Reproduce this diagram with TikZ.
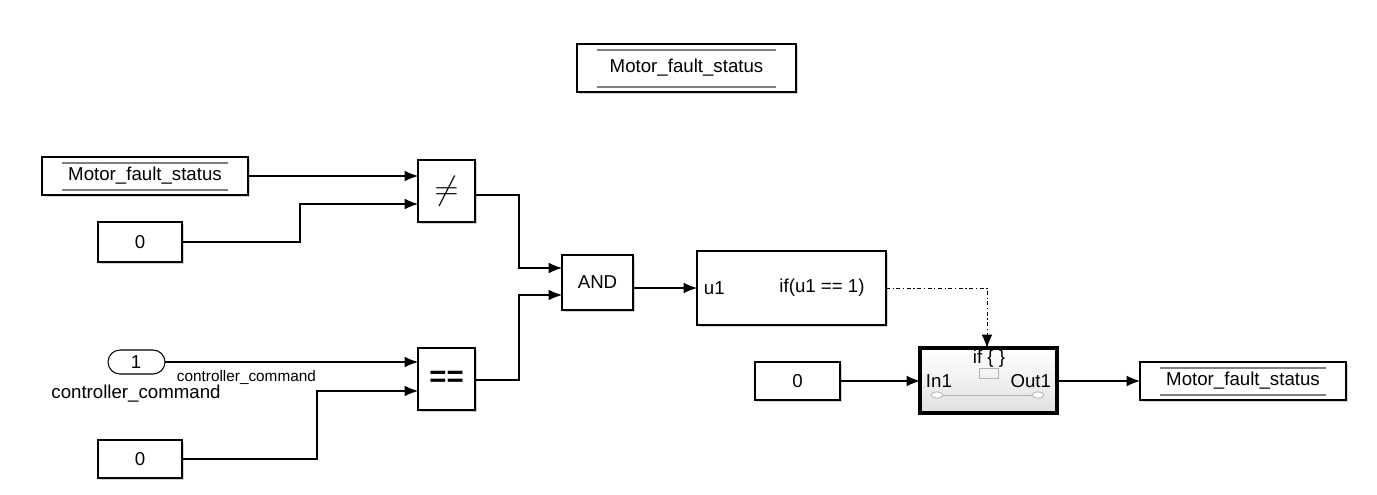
\documentclass[tikz,border=0pt]{standalone}
\usepackage{fontspec}
\setmainfont{Liberation Sans}
\usepackage{tikz}
\usetikzlibrary{calc,arrows,arrows.meta,shadows}
\tikzset{
  blk/.style={draw,thick,fill=white,drop shadow={shadow xshift=1.5pt,shadow yshift=-1.5pt,opacity=0.35},inner sep=0pt},
  sig/.style={-{Latex[length=10pt,width=8pt]},line width=0.8pt},
  txt/.style={font=\fontsize{14}{16}\selectfont},
}
\begin{document}
\begin{tikzpicture}[x=0.75pt,y=-0.75pt,line width=0.8pt]
\useasboundingbox (0,0) rectangle (1377,494);
% % data store blocks
\newcommand{\dstore}[5]{%
  \draw[blk] (#1,#2) rectangle (#3,#4);
  \draw[gray] ($(#1,#2)+(20,6)$) -- ($(#3,#2)+(-20,6)$)
              ($(#1,#4)+(20,-5)$) -- ($(#3,#4)+(-20,-5)$);
  \node[txt] at ($(#1,#2)!0.5!(#3,#4)$) {#5};}
\dstore{577}{44}{796}{92}{Motor\_fault\_status}
\dstore{42}{157}{248}{195}{Motor\_fault\_status}
\dstore{1140}{362}{1346}{400}{Motor\_fault\_status}
\coordinate (dsl) at (248,176);
\coordinate (dsr) at (1140,381);
% % constants
\draw[blk] (98,222) rectangle (182,262) node[midway,txt] (c1) {0};
\draw[blk] (98,440) rectangle (182,478) node[midway,txt] (c2) {0};
\draw[blk] (755,362) rectangle (840,400) node[midway,txt] (c3) {0};
% % operators
\draw[blk] (418,160) rectangle (475,222) node[midway,font=\fontsize{24}{26}\selectfont] (ne) {$\neq$};
\draw[blk] (418,348) rectangle (475,410) node[midway,font=\bfseries\fontsize{22}{24}\selectfont] (eq) {==};
\draw[blk] (562,255) rectangle (633,310) node[midway,txt] (and) {AND};
\draw[blk] (697,251) rectangle (886,325);
\node[txt,anchor=west] (u1) at (699,288) {u1};
\node[txt] (cond) at (822,288) {if(u1 == 1)};
% % if action subsystem
\draw[line width=3pt,top color=white,bottom color=black!12,drop shadow={shadow xshift=1.5pt,shadow yshift=-1.5pt,opacity=0.35}] (920,348) rectangle (1057,413);
\node[txt] (iftxt) at (989,359) {if \{ \}};
\draw[black!30,line width=0.6pt] (979,368) rectangle (998,378);
\node[txt,anchor=west] (in1) at (921,381) {In1};
\node[txt,anchor=east] (out1) at (1056,381) {Out1};
\draw[black!30,line width=0.6pt] (936,395) -- (1039,395);
\draw[black!30,fill=white,line width=0.6pt] (937,395) ellipse (6 and 3) (1038,395) ellipse (6 and 3);
% % inport
\draw[thick,fill=white,rounded corners=9pt] (108,350) rectangle (165,374);
\node[txt] (inp) at (136,362) {1};
\node[txt] (lbl) at (136,394) {controller\_command};
\node[font=\fontsize{11.5}{13}\selectfont,anchor=west] (sname) at (172,377) {controller\_command};
% % signals
\draw[sig] (dsl) -- (418,176);
\draw[sig] (182,242) -- (300,242) -- (300,204) -- (418,204);
\draw[sig] (475,195) -- (519,195) -- (519,268) -- (562,268);
\draw[sig] (475,380) -- (519,380) -- (519,295) -- (562,295);
\draw[sig] (633,288) -- (697,288);
\draw[sig] (165,362) -- (418,362);
\draw[sig] (182,459) -- (317,459) -- (317,391) -- (418,391);
\draw[sig] (840,381) -- (920,381);
\draw[sig] (1057,381) -- (dsr);
\draw[sig,dash dot,line width=0.6pt] (886,288) -- (987,288) -- (987,348);
\end{tikzpicture}
\end{document}
